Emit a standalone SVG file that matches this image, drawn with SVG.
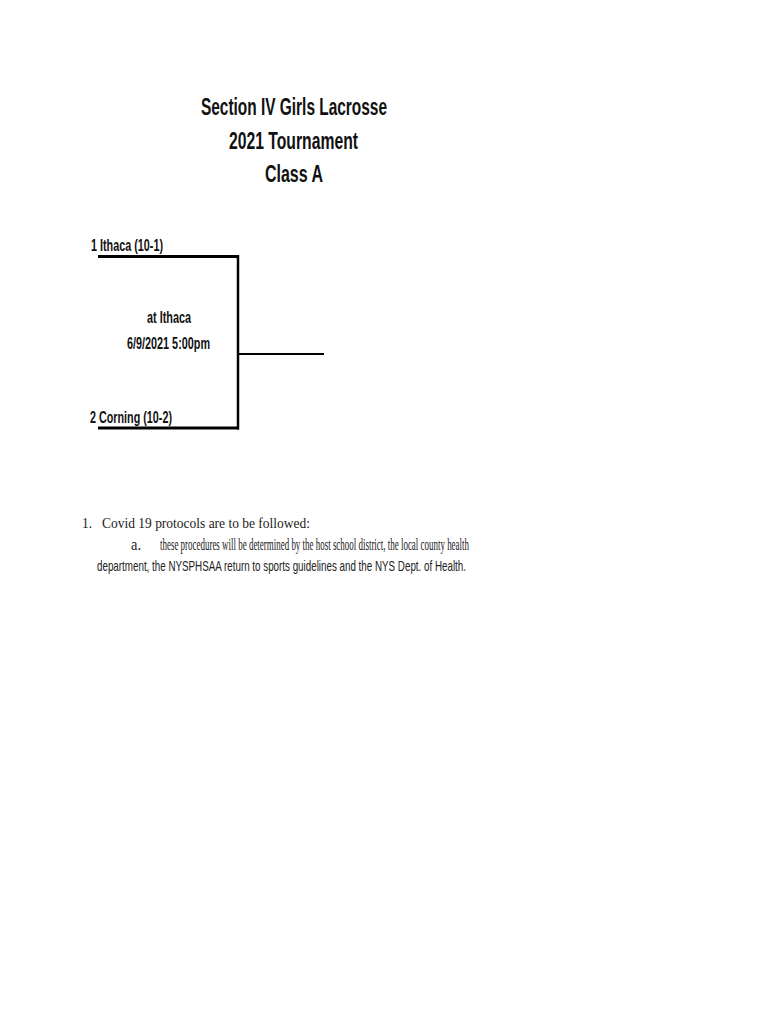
<svg xmlns="http://www.w3.org/2000/svg" width="768" height="1024" viewBox="0 0 768 1024">
<style>
.t{font-family:"Liberation Sans",Arial,sans-serif;font-weight:bold;font-size:23px;fill:#111}
.b{font-family:"Liberation Sans",Arial,sans-serif;font-weight:bold;font-size:16.5px;fill:#111}
.s{font-family:"Liberation Serif","Times New Roman",serif;font-size:15px;fill:#222}
.s2{font-family:"Liberation Serif","Times New Roman",serif;font-size:16px;fill:#222}
.n{font-family:"Liberation Sans",Arial,sans-serif;font-size:15px;fill:#222}
.l{stroke:#000;fill:none}
</style>
<rect width="768" height="1024" fill="#fff"/>
<g id="title">
<text class="t" x="201" y="115" textLength="186" lengthAdjust="spacingAndGlyphs">Section IV Girls Lacrosse</text>
<text class="t" x="229" y="149" textLength="129" lengthAdjust="spacingAndGlyphs">2021 Tournament</text>
<text class="t" x="265" y="182" textLength="58" lengthAdjust="spacingAndGlyphs">Class A</text>
</g>
<g id="connectors">
<line class="l" x1="98" y1="256.5" x2="239" y2="256.5" stroke-width="3"/>
<line class="l" x1="98" y1="428" x2="239" y2="428" stroke-width="3"/>
<line class="l" x1="238" y1="255" x2="238" y2="429.5" stroke-width="2.5"/>
<line class="l" x1="238" y1="354" x2="324" y2="354" stroke-width="2"/>
</g>
<g id="team1"><text class="b" x="91" y="251" textLength="72" lengthAdjust="spacingAndGlyphs">1 Ithaca (10-1)</text></g>
<g id="game"><text class="b" x="147" y="323" textLength="44" lengthAdjust="spacingAndGlyphs">at Ithaca</text>
<text class="b" x="127" y="349" textLength="83" lengthAdjust="spacingAndGlyphs">6/9/2021 5:00pm</text></g>
<g id="team2"><text class="b" x="90" y="423" textLength="82" lengthAdjust="spacingAndGlyphs">2 Corning (10-2)</text></g>
<g id="notes">
<text class="s" x="82" y="528" textLength="10" lengthAdjust="spacingAndGlyphs">1.</text>
<text class="s" x="102" y="528" textLength="208" lengthAdjust="spacingAndGlyphs">Covid 19 protocols are to be followed:</text>
<text class="s2" x="131" y="550" textLength="10" lengthAdjust="spacingAndGlyphs">a.</text>
<text class="s2" x="160" y="550" textLength="309" lengthAdjust="spacingAndGlyphs">these procedures will be determined by the host school district, the local county health</text>
<text class="n" x="97" y="571" textLength="369" lengthAdjust="spacingAndGlyphs">department, the NYSPHSAA return to sports guidelines and the NYS Dept. of Health.</text>
</g>
</svg>
